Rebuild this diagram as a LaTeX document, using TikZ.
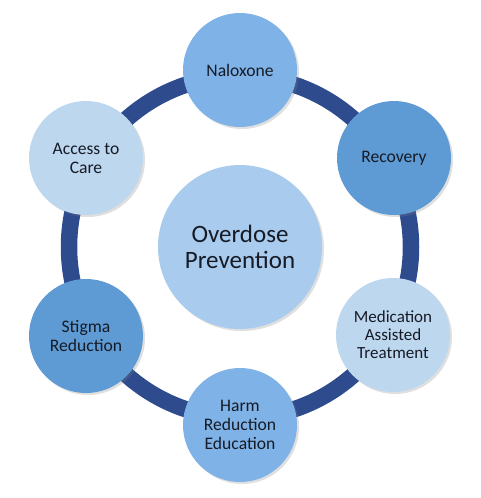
\documentclass[tikz,border=0pt]{standalone}
\usepackage{fontspec}
\setmainfont{Carlito}
\usetikzlibrary{shadows}
\definecolor{ringc}{HTML}{2E4B8E}
\definecolor{midc}{HTML}{7FB2E6}
\definecolor{darkc}{HTML}{5E9AD3}
\definecolor{lightc}{HTML}{BDD7EF}
\definecolor{centc}{HTML}{A9CBEE}
\definecolor{txtc}{HTML}{161B26}
\tikzset{
  petal/.style={circle, minimum size=114pt, inner sep=0pt, align=center,
    text=txtc, font=\fontsize{17.6}{19}\selectfont,
    drop shadow={opacity=0.25, shadow xshift=2pt, shadow yshift=-2pt}},
  hub/.style={circle, minimum size=164pt, inner sep=0pt, align=center, fill=centc,
    text=txtc, font=\fontsize{25}{26}\selectfont,
    drop shadow={opacity=0.25, shadow xshift=2pt, shadow yshift=-2pt}},
  ring/.style={draw=ringc, line width=16.5pt}
}
\begin{document}
\begin{tikzpicture}[x=1pt,y=-1pt]
\useasboundingbox (0,0) rectangle (480,498);
\fill[white] (0,0) rectangle (480,498);
\coordinate (o) at (240,247);
\draw[ring] (o) circle[radius=171];
\node[hub] (center) at (o) {Overdose\\Prevention};
\node[petal, fill=midc]   (nal) at (240,70)  {Naloxone};
\node[petal, fill=darkc]  (rec) at (394,158) {\raisebox{-3pt}{Recovery}};
\node[petal, fill=lightc, font=\fontsize{17}{18}\selectfont] (mat) at (393,335) {Medication\\Assisted\\Treatment};
\node[petal, fill=midc]   (harm) at (240,425) {Harm\\Reduction\\Education};
\node[petal, fill=darkc]  (stig) at (86,336) {Stigma\\Reduction};
\node[petal, fill=lightc] (acc) at (86,158) {Access to\\Care};
\end{tikzpicture}
\end{document}
